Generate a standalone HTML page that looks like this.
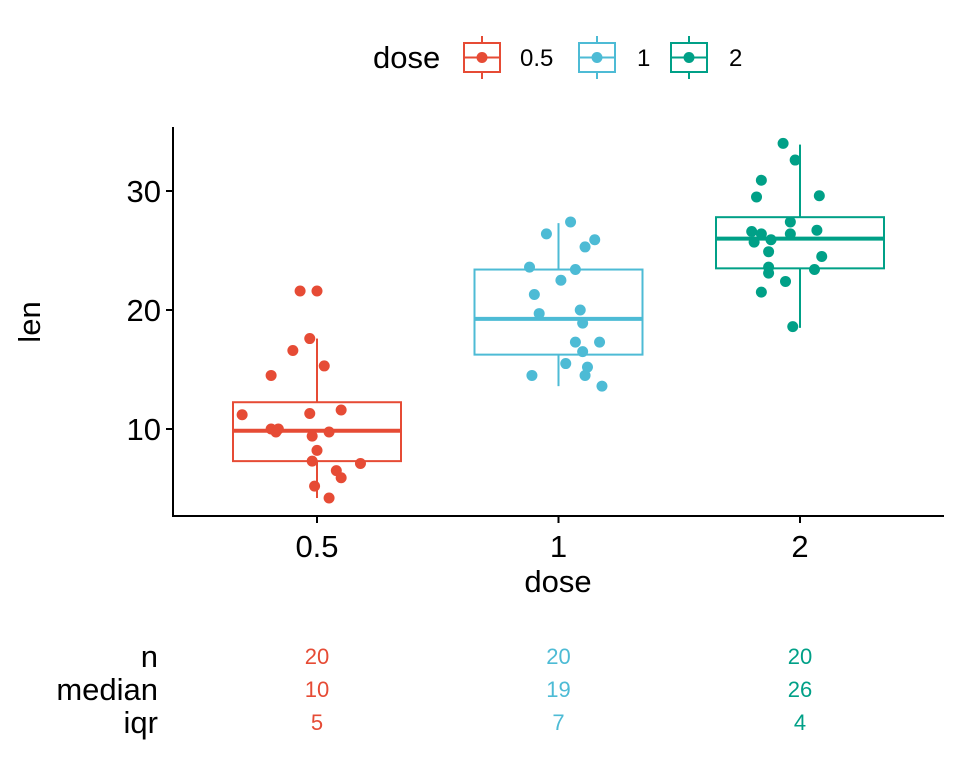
<!DOCTYPE html>
<html><head><meta charset="utf-8"><style>
body{margin:0;background:#fff;}
svg text{font-family:"Liberation Sans",Arial,sans-serif;}
</style></head><body>
<svg id="chart" width="960" height="768" xmlns="http://www.w3.org/2000/svg"></svg>
<script>
const categories = ["0.5","1","2"];
const colors = ["#E64B35","#4DBBD5","#00A087"];
const q1 = [7.3, 16.25, 23.5];
const medians = [9.85, 19.25, 26.0];
const q3 = [12.25, 23.4, 27.8];
const whiskerLow = [4.2, 13.6, 18.5];
const whiskerHigh = [17.6, 27.3, 33.9];
const pts05 = [21.6,21.6,17.6,16.6,15.3,14.5,11.2,11.3,11.6,10,9.75,10,9.4,9.75,8.2,7.3,7.1,6.5,5.9,5.2,4.2];
const jit05 = [-0.07,0,-0.03,-0.1,0.03,-0.19,-0.31,-0.03,0.1,-0.19,-0.17,-0.16,-0.02,0.05,0,-0.02,0.18,0.08,0.1,-0.01,0.05];
const pts1 = [26.4,27.4,25.9,25.3,23.6,23.4,22.5,21.3,19.7,20,18.9,17.3,17.3,16.5,15.5,15.2,14.5,14.5,13.6];
const jit1 = [-0.05,0.05,0.15,0.11,-0.12,0.07,0.01,-0.1,-0.08,0.09,0.1,0.07,0.17,0.1,0.03,0.12,-0.11,0.11,0.18];
const pts2 = [34,32.6,30.9,29.6,29.5,27.4,26.6,26.4,26.7,26.4,25.9,25.7,24.9,24.5,23.6,23.4,23.1,21.5,22.4,18.6];
const jit2 = [-0.07,-0.02,-0.16,0.08,-0.18,-0.04,-0.2,-0.16,0.07,-0.04,-0.12,-0.19,-0.13,0.09,-0.13,0.06,-0.13,-0.16,-0.06,-0.03];
const tableN = ["20","20","20"];
const tableMedian = ["10","19","26"];
const tableIqr = ["5","7","4"];
const yTicks = [10,20,30];

const NS="http://www.w3.org/2000/svg";
const svg=document.getElementById('chart');
function el(tag,attrs,parent){const e=document.createElementNS(NS,tag);for(const k in attrs)e.setAttribute(k,attrs[k]);(parent||svg).appendChild(e);return e;}
function y(v){return 429-(v-10)*11.9;}
function x(i){return 317+i*241.5;}
const BW=84;
const FS=31;

let a=el('line',{x1:173,y1:127,x2:173,y2:516,stroke:'#000','stroke-width':2});


a=el('line',{x1:172,y1:516,x2:944,y2:516,stroke:'#000','stroke-width':2});


yTicks.forEach(t=>{
  let l=el('line',{x1:166,x2:173,y1:y(t),y2:y(t),stroke:'#000','stroke-width':2});
  
  
  let tx=el('text',{x:161,y:y(t)+11,'text-anchor':'end','font-size':FS});
  tx.textContent=t;
  
  
});
categories.forEach((c,i)=>{
  let l=el('line',{x1:x(i),x2:x(i),y1:516,y2:523,stroke:'#000','stroke-width':2});
  
  
  let tx=el('text',{x:x(i),y:557,'text-anchor':'middle','font-size':FS});
  tx.textContent=c;
  
  
});
let t=el('text',{x:558,y:592,'text-anchor':'middle','font-size':FS});t.textContent='dose';


t=el('text',{x:0,y:0,'text-anchor':'middle','font-size':FS,transform:'translate(40,322) rotate(-90)'});t.textContent='len';



const allPts=[pts05,pts1,pts2], allJit=[jit05,jit1,jit2];
categories.forEach((c,i)=>{
  const g=el('g',{});
  
  
  const col=colors[i];
  el('line',{x1:x(i),x2:x(i),y1:y(q3[i]),y2:y(whiskerHigh[i]),stroke:col,'stroke-width':2},g);
  el('line',{x1:x(i),x2:x(i),y1:y(q1[i]),y2:y(whiskerLow[i]),stroke:col,'stroke-width':2},g);
  el('rect',{x:x(i)-BW,y:y(q3[i]),width:BW*2,height:y(q1[i])-y(q3[i]),fill:'none',stroke:col,'stroke-width':2},g);
  el('line',{x1:x(i)-BW,x2:x(i)+BW,y1:y(medians[i]),y2:y(medians[i]),stroke:col,'stroke-width':4},g);
  allPts[i].forEach((v,j)=>{
    const p=el('circle',{cx:x(i)+allJit[i][j]*241.5,cy:y(v),r:5.5,fill:col},g);
    
    
  });
});

t=el('text',{x:373,y:68,'font-size':FS});t.textContent='dose';


const lx=[482,597,689], tx=[520,637,729];
categories.forEach((c,i)=>{
  const g=el('g',{});
  
  
  const col=colors[i];
  el('line',{x1:lx[i],x2:lx[i],y1:36,y2:79,stroke:col,'stroke-width':2},g);
  el('rect',{x:lx[i]-18,y:43,width:36,height:29,fill:'#fff',stroke:col,'stroke-width':2},g);
  el('line',{x1:lx[i]-18,x2:lx[i]+18,y1:57.5,y2:57.5,stroke:col,'stroke-width':2},g);
  el('circle',{cx:lx[i],cy:57.5,r:5.5,fill:col},g);
  const tt=el('text',{x:tx[i],y:66,'font-size':24},g);tt.textContent=c;
});

const rows=[['n',tableN,656],['median',tableMedian,689],['iqr',tableIqr,722]];
rows.forEach(r=>{
  let l=el('text',{x:158,y:r[2]+11,'text-anchor':'end','font-size':FS});l.textContent=r[0];
  
  
  r[1].forEach((v,i)=>{
    let c=el('text',{x:x(i),y:r[2]+8,'text-anchor':'middle','font-size':22,fill:colors[i]});c.textContent=v;
    
    
  });
});
</script>
</body></html>
